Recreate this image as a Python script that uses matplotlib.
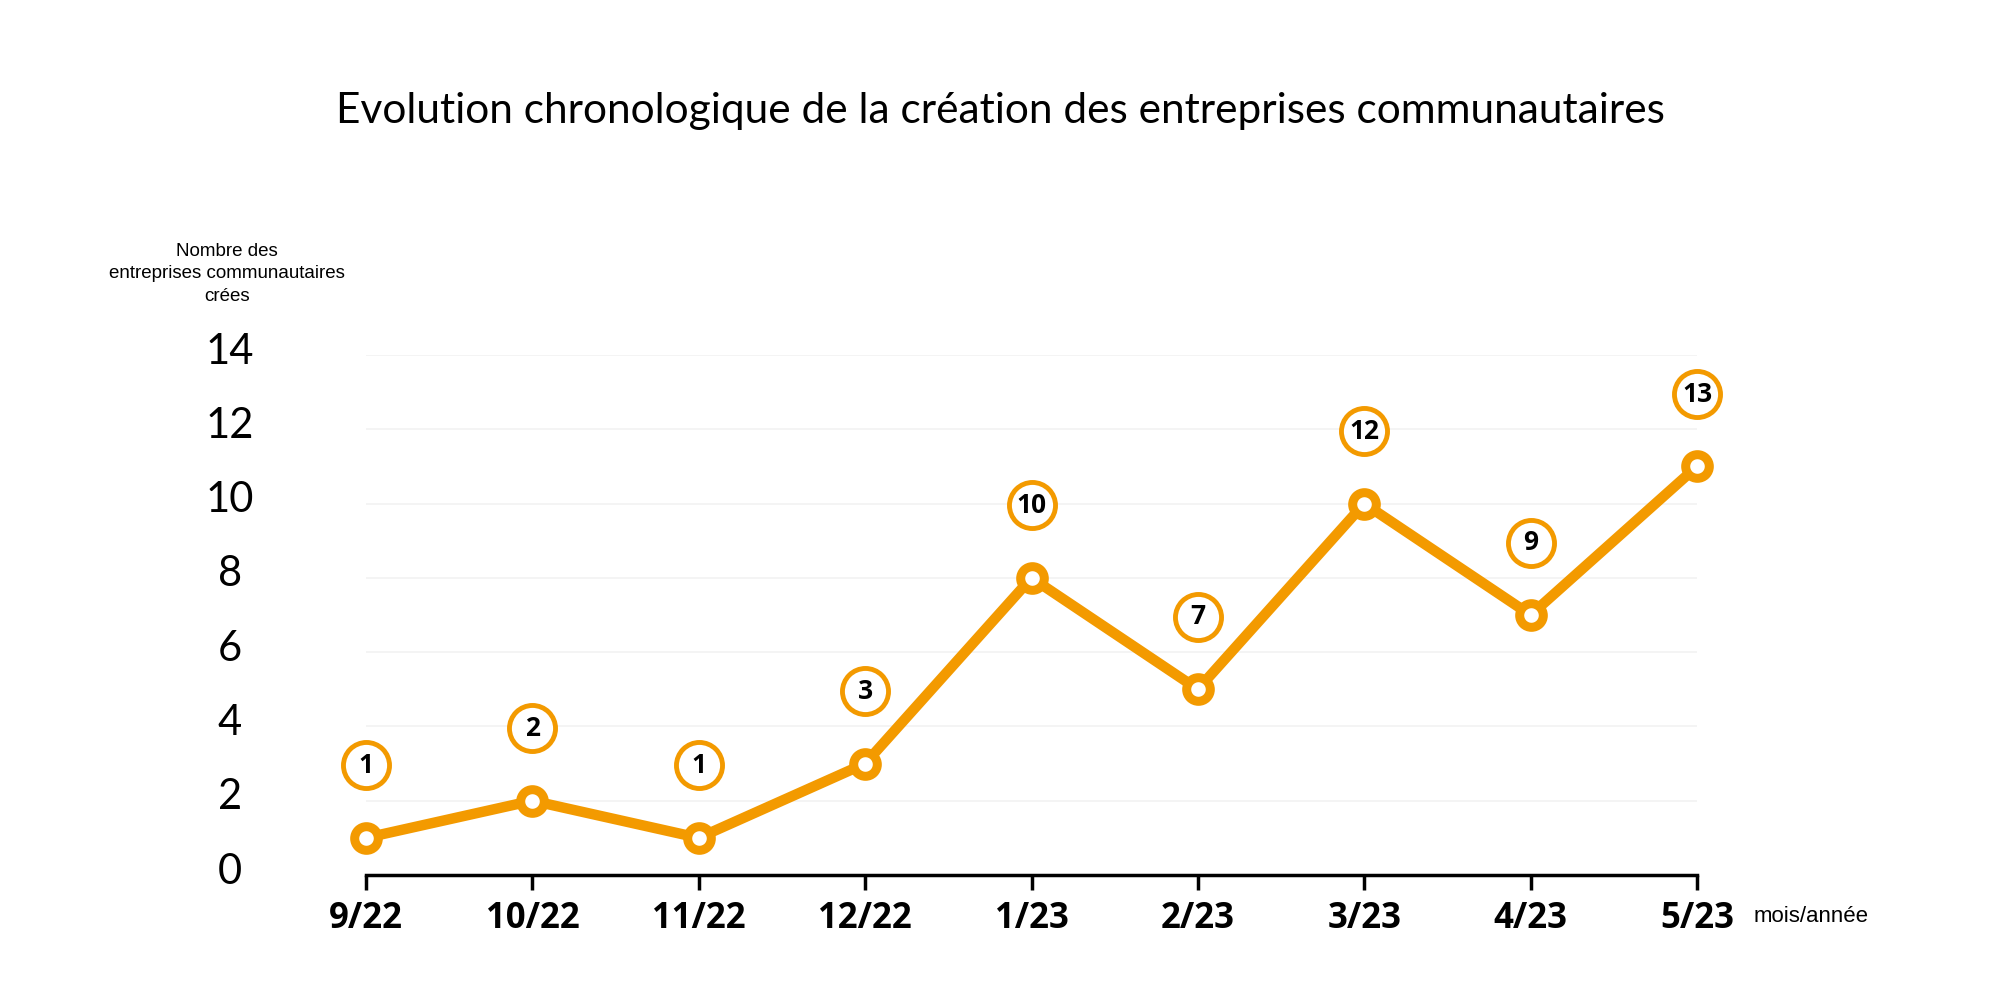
import matplotlib.pyplot as plt
import matplotlib.transforms as mtransforms
from matplotlib import font_manager

# Data
months = ["9/22", "10/22", "11/22", "12/22", "1/23", "2/23", "3/23", "4/23", "5/23"]
plotted = [1, 2, 1, 3, 8, 5, 10, 7, 11]
labels = [1, 2, 1, 3, 10, 7, 12, 9, 13]
yticks = [0, 2, 4, 6, 8, 10, 12, 14]

orange = "#F39A00"
names = {f.name for f in font_manager.fontManager.ttflist}
narrow = "Liberation Sans Narrow" if "Liberation Sans Narrow" in names else "Open Sans"

fig = plt.figure(figsize=(20, 10), dpi=100)
ax = fig.add_axes([0.183, 0.125, 0.6655, 0.52])

x = list(range(len(months)))
ax.plot(x, plotted, color=orange, lw=7.5, marker="o", markersize=17,
        markerfacecolor="white", markeredgecolor=orange, markeredgewidth=6.5,
        zorder=3, clip_on=False)

# value bubbles above the points
lab_y = [v + 1.95 for v in plotted]
ax.scatter(x, lab_y, s=1100, facecolor="white", edgecolor=orange,
           linewidth=3.5, zorder=4, clip_on=False)
for xi, yi, t in zip(x, lab_y, labels):
    ax.text(xi, yi, str(t), ha="center", va="center", fontsize=19,
            fontweight="bold", family=narrow, zorder=5)

ax.set_xlim(0, len(months) - 1)
ax.set_ylim(0, 14)
ax.set_xticks(x)
ax.set_xticklabels(months, fontsize=25, fontweight="bold", family=narrow)
ax.set_yticks(yticks)
ax.set_yticklabels([str(v) for v in yticks], fontsize=30, family="Lato", ha="center")
ax.tick_params(axis="y", length=0, pad=98)
ax.tick_params(axis="x", length=11, width=2.5, direction="out", pad=8)

# y labels sit a bit above their gridlines in the original
shift = mtransforms.ScaledTranslation(0, 5 / 72, fig.dpi_scale_trans)
for lab in ax.get_yticklabels():
    lab.set_transform(lab.get_transform() + shift)

for v in yticks[1:]:
    ax.axhline(v, color="#f2f2f2", lw=1.2, zorder=0)

for s in ["left", "right", "top"]:
    ax.spines[s].set_visible(False)
ax.spines["bottom"].set_linewidth(2.5)

fig.text(0.5, 0.889, "Evolution chronologique de la création des entreprises communautaires",
         ha="center", va="center", fontsize=30.5, family="Lato")
fig.text(0.1135, 0.726, "Nombre des\nentreprises communautaires\ncrées", ha="center",
         va="center", fontsize=13.5, family="Liberation Sans", linespacing=1.45)
fig.text(0.877, 0.084, "mois/année", ha="left", va="center", fontsize=16,
         family="Liberation Sans")

fig.savefig("out.png", dpi=100)
